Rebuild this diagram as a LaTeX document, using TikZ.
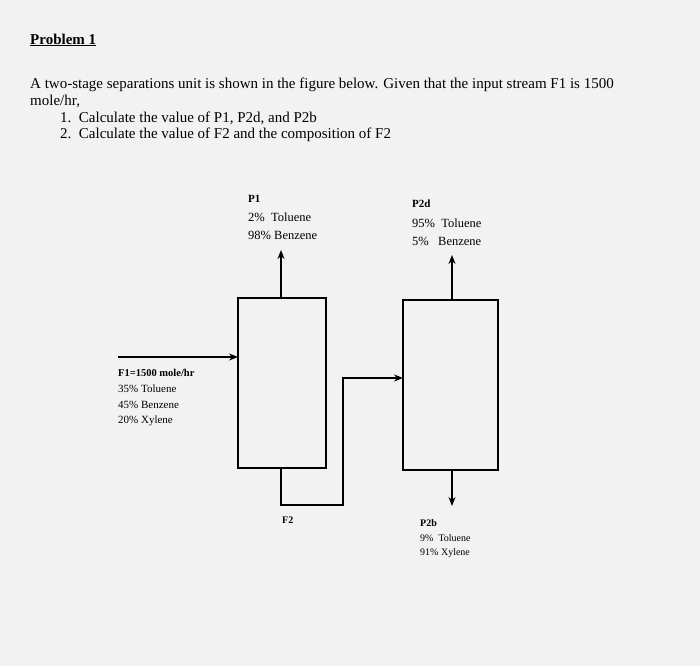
\documentclass[tikz,border=0pt]{standalone}
\usepackage{fontspec}
\setmainfont{Liberation Serif}
\usetikzlibrary{arrows.meta}
\begin{document}
\begin{tikzpicture}[x=1pt,y=-1pt,
  lab/.style={anchor=west,inner sep=0,font=\fontsize{12.5}{13}\selectfont},
  slab/.style={anchor=west,inner sep=0,font=\fontsize{11}{12}\selectfont},
  body/.style={anchor=west,inner sep=0,font=\fontsize{15}{16}\selectfont},
  flow/.style={line width=1.3pt,-{Stealth[length=9pt,width=7pt]}}]
\useasboundingbox[fill=black!5] (0,0) rectangle (700,666);
\node[body,font=\bfseries\fontsize{15}{16}\selectfont] (t) at (30,40) {\underline{Problem 1}};
\node[body] (l1) at (30,85) {A two-stage separations unit is shown in the figure below. Given that the input stream F1 is 1500};
\node[body] (l2) at (30,101) {mole/hr,};
\node[body] (l3) at (60,118) {1.\enspace Calculate the value of P1, P2d, and P2b};
\node[body] (l4) at (60,135) {2.\enspace Calculate the value of F2 and the composition of F2};
\draw[line width=1.8pt] (238,298) rectangle (326,468);
\draw[line width=1.8pt] (403,300) rectangle (498,470);
\coordinate (b1t) at (281,298); \coordinate (p1) at (281,250);
\coordinate (b2t) at (452,300); \coordinate (p2) at (452,255);
\coordinate (f1s) at (118,357); \coordinate (f1e) at (238,357);
\coordinate (b1b) at (281,468); \coordinate (b2in) at (403,378);
\coordinate (b2b) at (452,470); \coordinate (p2b) at (452,506);
\draw[flow] (b1t) -- (p1);
\draw[flow] (b2t) -- (p2);
\draw[flow] (f1s) -- (f1e);
\draw[flow] (b1b) |- (343,505) |- (b2in);
\draw[flow] (b2b) -- (p2b);
\node[slab,font=\bfseries\fontsize{11}{12}\selectfont] (P1) at (248,199) {P1};
\node[lab] (a1) at (248,217) {2\% \ Toluene};
\node[lab] (a2) at (248,235) {98\% Benzene};
\node[slab,font=\bfseries\fontsize{11}{12}\selectfont] (P2d) at (412,204) {P2d};
\node[lab] (b1) at (412,223) {95\% \ Toluene};
\node[lab] (b2) at (412,241) {5\% \ \ Benzene};
\node[slab,font=\bfseries\fontsize{10.5}{12}\selectfont] (F1) at (118,373) {F1=1500 mole/hr};
\node[slab] (c1) at (118,389) {35\% Toluene};
\node[slab] (c2) at (118,405) {45\% Benzene};
\node[slab] (c3) at (118,421) {20\% Xylene};
\node[slab,font=\bfseries\fontsize{10}{11}\selectfont] (F2) at (282,520) {F2};
\node[slab,font=\bfseries\fontsize{10}{11}\selectfont] (P2b) at (420,523) {P2b};
\node[slab,font=\fontsize{10}{11}\selectfont] (d1) at (420,538) {9\% \ Toluene};
\node[slab,font=\fontsize{10}{11}\selectfont] (d2) at (420,553) {91\% Xylene};
\end{tikzpicture}
\end{document}
